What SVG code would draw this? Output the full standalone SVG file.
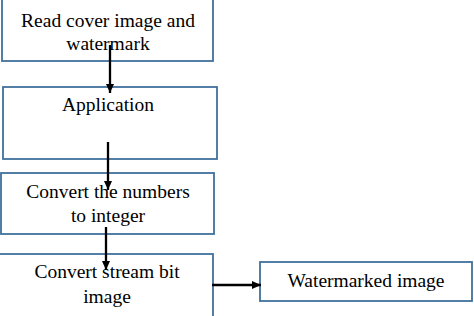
<svg xmlns="http://www.w3.org/2000/svg" width="474" height="316" viewBox="0 0 474 316">
<style>
.box{fill:#fff;stroke:#41719c;stroke-width:1.8}
.t{font-family:"Liberation Serif","Times New Roman",serif;font-size:19.5px;fill:#000;text-anchor:middle}
.c{stroke:#000;stroke-width:2.3;fill:none}
</style>
<defs>
<marker id="ah" markerWidth="10" markerHeight="10" refX="9" refY="5" orient="auto" markerUnits="userSpaceOnUse">
<path d="M0,1 L9,5 L0,9 Z" fill="#000"/>
</marker>
</defs>
<rect width="474" height="316" fill="#fff"/>
<g id="n1"><rect class="box" x="2" y="-2" width="211" height="63"/>
<text class="t" x="108" y="27">Read cover image and</text>
<text class="t" x="108" y="50">watermark</text></g>
<g id="n2"><rect class="box" x="3" y="87" width="214" height="72"/>
<text class="t" x="108" y="111">Application</text></g>
<g id="n3"><rect class="box" x="1" y="173" width="213" height="61"/>
<text class="t" x="108" y="198">Convert the numbers</text>
<text class="t" x="108" y="222">to integer</text></g>
<g id="n4"><rect class="box" x="-2" y="254" width="215" height="80"/>
<text class="t" x="107" y="278">Convert stream bit</text>
<text class="t" x="107" y="303">image</text></g>
<g id="n5"><rect class="box" x="260" y="262" width="212" height="39"/>
<text class="t" x="366" y="287">Watermarked image</text></g>
<g id="connectors">
<line class="c" x1="110" y1="45" x2="110" y2="93" marker-end="url(#ah)"/>
<line class="c" x1="108" y1="142" x2="108" y2="190" marker-end="url(#ah)"/>
<line class="c" x1="106" y1="227" x2="106" y2="270" marker-end="url(#ah)"/>
<line class="c" x1="212" y1="285" x2="261" y2="285" marker-end="url(#ah)"/>
</g>
</svg>
